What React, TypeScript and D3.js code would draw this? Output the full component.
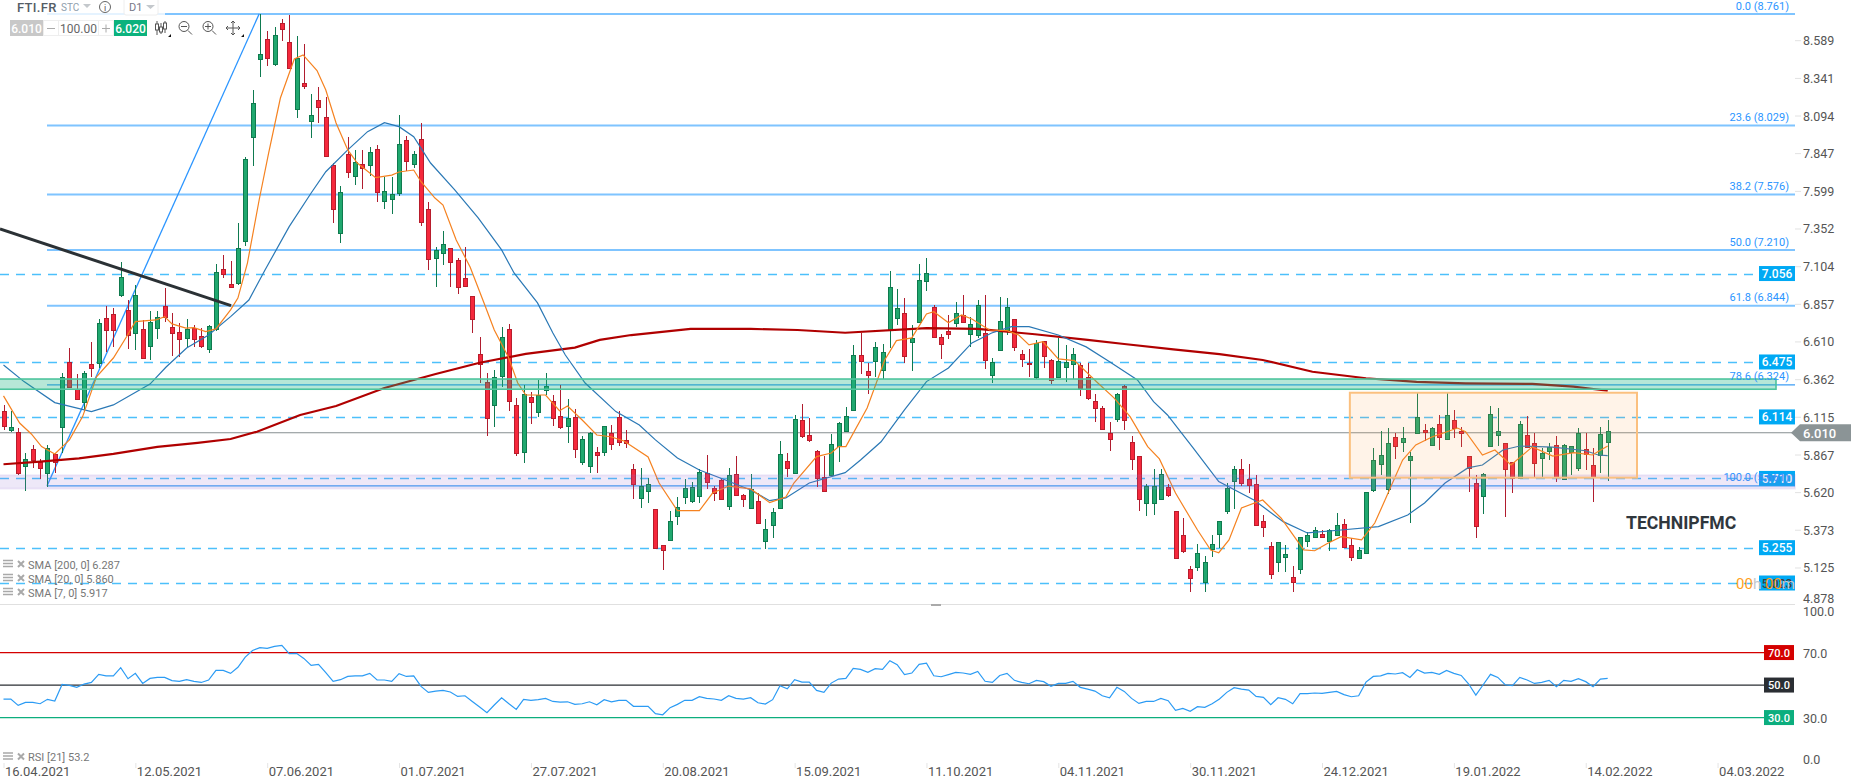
import { useEffect, useRef } from 'react';
import * as d3 from 'd3';

type Candle = [number, number, number, number]; // open, high, low, close
type Vertex = [number, number]; // bar position, price

const FONT = 'Roboto, sans-serif';

const candles: Candle[] = [
  [6.155, 6.193, 6.028, 6.056], [6.028, 6.153, 6.017, 6.048], [6.017, 6.041, 5.733, 5.748], [5.792, 5.877, 5.630, 5.838],
  [5.904, 5.930, 5.779, 5.831], [5.818, 5.838, 5.706, 5.779], [5.746, 5.930, 5.654, 5.910], [5.871, 5.877, 5.746, 5.818],
  [6.048, 6.403, 5.877, 6.376], [6.475, 6.567, 6.311, 6.311], [6.298, 6.396, 6.225, 6.232], [6.212, 6.416, 6.147, 6.403],
  [6.462, 6.606, 6.376, 6.436], [6.468, 6.758, 6.436, 6.731], [6.764, 6.843, 6.541, 6.685], [6.790, 6.830, 6.574, 6.685],
  [6.915, 7.132, 6.902, 7.033], [6.817, 6.882, 6.560, 6.652], [6.665, 6.981, 6.554, 6.915], [6.692, 6.751, 6.495, 6.501],
  [6.580, 6.810, 6.488, 6.738], [6.698, 6.810, 6.626, 6.771], [6.843, 6.961, 6.738, 6.771], [6.705, 6.797, 6.514, 6.665],
  [6.672, 6.731, 6.508, 6.626], [6.633, 6.758, 6.574, 6.692], [6.698, 6.718, 6.574, 6.626], [6.646, 6.698, 6.567, 6.580],
  [6.560, 6.718, 6.534, 6.711], [6.692, 7.119, 6.679, 7.066], [7.086, 7.178, 7.027, 7.053], [6.987, 7.138, 6.968, 6.968],
  [6.994, 7.388, 6.981, 7.224], [7.270, 7.822, 7.237, 7.809], [7.953, 8.262, 7.763, 8.176], [8.465, 8.761, 8.347, 8.498],
  [8.597, 8.649, 8.419, 8.472], [8.433, 8.676, 8.419, 8.623], [8.702, 8.728, 8.584, 8.662], [8.577, 8.754, 8.406, 8.406],
  [8.137, 8.617, 8.078, 8.472], [8.308, 8.564, 8.268, 8.288], [8.058, 8.235, 7.946, 8.098], [8.196, 8.281, 8.045, 8.150],
  [8.084, 8.216, 7.822, 7.828], [7.769, 7.782, 7.388, 7.480], [7.322, 7.631, 7.257, 7.592], [7.841, 7.953, 7.684, 7.723],
  [7.697, 7.868, 7.638, 7.789], [7.776, 7.868, 7.611, 7.749], [7.769, 7.887, 7.697, 7.855], [7.874, 7.900, 7.526, 7.592],
  [7.533, 7.690, 7.480, 7.598], [7.546, 7.690, 7.447, 7.579], [7.585, 8.098, 7.565, 7.907], [7.933, 7.960, 7.730, 7.795],
  [7.776, 7.861, 7.749, 7.841], [7.940, 8.045, 7.368, 7.395], [7.480, 7.526, 7.079, 7.152], [7.158, 7.230, 6.968, 7.211],
  [7.191, 7.336, 7.112, 7.250], [7.224, 7.224, 6.968, 7.132], [7.145, 7.158, 6.922, 6.968], [7.027, 7.230, 6.968, 6.974],
  [6.909, 6.909, 6.665, 6.758], [6.528, 6.639, 6.337, 6.462], [6.344, 6.403, 5.989, 6.107], [6.193, 6.422, 6.048, 6.376],
  [6.383, 6.705, 6.311, 6.639], [6.692, 6.725, 6.153, 6.219], [6.193, 6.238, 5.857, 5.877], [5.884, 6.324, 5.811, 6.265],
  [6.245, 6.278, 6.068, 6.212], [6.147, 6.357, 6.114, 6.258], [6.291, 6.403, 6.258, 6.317], [6.219, 6.258, 6.055, 6.107],
  [6.120, 6.324, 6.035, 6.048], [6.055, 6.232, 5.943, 6.107], [6.114, 6.166, 5.844, 5.904], [5.818, 5.989, 5.798, 5.969],
  [5.792, 6.015, 5.746, 6.009], [5.884, 5.917, 5.746, 5.864], [5.884, 6.055, 5.857, 6.055], [6.009, 6.061, 5.897, 5.936],
  [6.114, 6.153, 5.923, 5.949], [5.963, 6.028, 5.910, 5.943], [5.772, 5.805, 5.575, 5.674], [5.582, 5.779, 5.516, 5.660],
  [5.628, 5.713, 5.549, 5.674], [5.509, 5.509, 5.253, 5.253], [5.273, 5.273, 5.109, 5.240], [5.306, 5.496, 5.306, 5.430],
  [5.463, 5.588, 5.404, 5.522], [5.588, 5.706, 5.542, 5.647], [5.562, 5.687, 5.549, 5.654], [5.595, 5.772, 5.549, 5.752],
  [5.746, 5.864, 5.641, 5.687], [5.647, 5.660, 5.562, 5.614], [5.700, 5.713, 5.568, 5.575], [5.529, 5.779, 5.503, 5.733],
  [5.739, 5.857, 5.601, 5.601], [5.601, 5.608, 5.522, 5.575], [5.516, 5.739, 5.509, 5.641], [5.562, 5.614, 5.417, 5.417],
  [5.299, 5.443, 5.247, 5.378], [5.404, 5.516, 5.319, 5.490], [5.516, 5.956, 5.516, 5.871], [5.825, 5.877, 5.720, 5.779],
  [5.746, 6.127, 5.746, 6.101], [6.094, 6.199, 5.976, 5.989], [5.995, 6.107, 5.949, 5.963], [5.890, 5.897, 5.654, 5.713],
  [5.720, 5.857, 5.628, 5.628], [5.733, 6.002, 5.733, 5.936], [5.923, 6.081, 5.818, 6.074], [6.022, 6.179, 6.022, 6.120],
  [6.160, 6.587, 6.153, 6.521], [6.521, 6.665, 6.396, 6.482], [6.416, 6.468, 6.265, 6.389], [6.482, 6.606, 6.376, 6.574],
  [6.422, 6.593, 6.363, 6.541], [6.685, 7.073, 6.567, 6.968], [6.764, 6.955, 6.718, 6.830], [6.797, 6.895, 6.468, 6.514],
  [6.606, 6.718, 6.416, 6.633], [6.738, 7.119, 6.738, 7.014], [7.007, 7.158, 6.941, 7.060], [6.836, 6.849, 6.633, 6.639],
  [6.639, 6.659, 6.495, 6.593], [6.679, 6.784, 6.626, 6.659], [6.731, 6.869, 6.705, 6.797], [6.784, 6.915, 6.738, 6.738],
  [6.659, 6.771, 6.574, 6.725], [6.652, 6.882, 6.633, 6.849], [6.665, 6.915, 6.429, 6.488], [6.389, 6.501, 6.337, 6.475],
  [6.554, 6.902, 6.547, 6.744], [6.685, 6.895, 6.652, 6.836], [6.758, 6.758, 6.547, 6.574], [6.528, 6.554, 6.442, 6.495],
  [6.468, 6.560, 6.376, 6.462], [6.376, 6.620, 6.363, 6.600], [6.613, 6.613, 6.436, 6.514], [6.488, 6.495, 6.330, 6.357],
  [6.376, 6.633, 6.370, 6.482], [6.442, 6.587, 6.344, 6.475], [6.462, 6.567, 6.363, 6.528], [6.455, 6.468, 6.252, 6.304],
  [6.376, 6.468, 6.225, 6.238], [6.219, 6.265, 6.081, 6.173], [6.173, 6.186, 6.035, 6.035], [6.009, 6.081, 5.890, 5.969],
  [6.101, 6.271, 6.081, 6.265], [6.317, 6.324, 6.028, 6.094], [5.949, 5.989, 5.766, 5.838], [5.857, 5.857, 5.496, 5.575],
  [5.549, 5.674, 5.463, 5.660], [5.549, 5.772, 5.470, 5.660], [5.575, 5.772, 5.575, 5.739], [5.654, 5.674, 5.588, 5.601],
  [5.496, 5.496, 5.181, 5.187], [5.339, 5.450, 5.220, 5.233], [5.115, 5.135, 4.964, 5.056], [5.128, 5.279, 5.102, 5.220],
  [5.030, 5.201, 4.964, 5.161], [5.247, 5.339, 5.194, 5.279], [5.345, 5.430, 5.253, 5.430], [5.496, 5.680, 5.476, 5.647],
  [5.693, 5.792, 5.509, 5.772], [5.772, 5.838, 5.660, 5.680], [5.706, 5.805, 5.614, 5.667], [5.674, 5.733, 5.398, 5.404],
  [5.430, 5.470, 5.325, 5.391], [5.266, 5.292, 5.050, 5.082], [5.161, 5.292, 5.096, 5.292], [5.194, 5.273, 5.096, 5.214],
  [5.063, 5.135, 4.964, 5.030], [5.115, 5.325, 5.082, 5.325], [5.299, 5.358, 5.260, 5.339], [5.325, 5.391, 5.319, 5.371],
  [5.345, 5.371, 5.319, 5.325], [5.299, 5.378, 5.233, 5.371], [5.339, 5.483, 5.332, 5.404], [5.411, 5.443, 5.260, 5.260],
  [5.273, 5.319, 5.168, 5.194], [5.187, 5.260, 5.181, 5.240], [5.220, 5.621, 5.214, 5.621], [5.634, 5.910, 5.621, 5.831],
  [5.805, 6.022, 5.733, 5.864], [5.641, 6.041, 5.608, 5.943], [5.982, 6.009, 5.838, 5.923], [5.949, 6.048, 5.884, 5.976],
  [5.831, 5.884, 5.417, 5.857], [6.009, 6.278, 6.002, 6.114], [6.028, 6.068, 5.956, 6.015], [5.930, 6.048, 5.923, 6.041],
  [6.068, 6.127, 5.897, 5.982], [5.969, 6.271, 5.969, 6.127], [6.094, 6.160, 5.976, 6.041], [6.022, 6.048, 5.917, 6.009],
  [5.857, 5.857, 5.621, 5.779], [5.680, 5.733, 5.319, 5.398], [5.595, 5.746, 5.476, 5.739], [5.923, 6.186, 5.923, 6.133],
  [5.995, 6.173, 5.923, 6.022], [5.943, 5.943, 5.457, 5.772], [5.818, 5.818, 5.614, 5.713], [5.713, 6.087, 5.706, 6.068],
  [5.995, 6.120, 5.917, 5.917], [5.943, 6.009, 5.713, 5.811], [5.844, 5.910, 5.713, 5.877], [5.890, 5.943, 5.831, 5.917],
  [5.930, 5.989, 5.687, 5.720], [5.706, 5.936, 5.706, 5.930], [5.884, 5.923, 5.733, 5.923], [5.779, 6.041, 5.759, 6.009],
  [5.904, 6.009, 5.766, 5.871], [5.798, 5.910, 5.555, 5.720], [5.864, 6.048, 5.746, 6.002], [5.949, 6.094, 5.693, 6.022],
];

const sma200: Vertex[] = [
  [0, 5.803], [5, 5.82], [10.3, 5.842], [15, 5.871], [21, 5.917], [26.5, 5.943], [31, 5.969], [34.6, 6.017], [40.5, 6.127],
  [45.4, 6.186], [52, 6.304], [59, 6.396], [65, 6.47], [71.3, 6.528], [78, 6.569], [81.4, 6.62], [85.7, 6.652], [93.8, 6.692],
  [102, 6.692], [108.4, 6.685], [114.9, 6.667], [126, 6.698], [133, 6.692], [140.8, 6.657], [148, 6.62], [153, 6.593],
  [159.7, 6.558], [166, 6.526], [171.9, 6.488], [178.7, 6.411], [186, 6.368], [192.9, 6.344], [199.6, 6.335], [208.7, 6.331],
  [214.3, 6.313], [219, 6.286],
];

const sma20: Vertex[] = [
  [0, 6.455], [2.8, 6.346], [7, 6.208], [12, 6.149], [15, 6.193], [20, 6.33], [22.2, 6.442], [25, 6.567], [28, 6.652], [31, 6.773],
  [33.5, 6.882], [35.7, 7.079], [39, 7.364], [42, 7.585], [44, 7.725], [47, 7.868], [49.7, 7.988], [52, 8.047], [54, 8.021],
  [56, 7.955], [58.3, 7.782], [61.6, 7.605], [64.8, 7.421], [68, 7.211], [69.7, 7.06], [72.9, 6.863], [75, 6.665], [76.7, 6.521],
  [79.4, 6.337], [83.6, 6.149], [86.8, 6.061], [89, 5.963], [92, 5.844], [95, 5.765], [98.2, 5.706], [102, 5.634], [104.6, 5.564],
  [106.8, 5.582], [110, 5.68], [114.9, 5.748], [117, 5.831], [119.8, 5.951], [123, 6.16], [126, 6.346], [129, 6.436], [132.2, 6.6],
  [134.9, 6.665], [137.6, 6.707], [140, 6.707], [144, 6.652], [147.8, 6.574], [151, 6.477], [154.8, 6.357], [157, 6.214],
  [158.9, 6.127], [162.4, 5.91], [165.9, 5.689], [170.7, 5.568], [174.7, 5.426], [178, 5.352], [182.6, 5.371], [187.7, 5.393],
  [191.7, 5.47], [194, 5.549], [196.8, 5.68], [199.9, 5.779], [201.9, 5.798], [204.7, 5.897], [207, 5.923], [211.5, 5.915],
  [216, 5.892], [217.7, 5.864], [219, 5.86],
];

const sma7: Vertex[] = [
  [0, 6.252], [2.2, 6.074], [3.8, 6.002], [5.2, 5.919], [7, 5.871], [9, 5.963], [10.8, 6.116], [12.7, 6.378], [15, 6.501],
  [16.8, 6.641], [18, 6.74], [20.8, 6.751], [22, 6.773], [23, 6.725], [24.9, 6.698], [26, 6.7], [27.6, 6.674], [29, 6.692],
  [31, 6.817], [32, 6.895], [33.3, 7.125], [34.9, 7.539], [36.2, 7.848], [37.8, 8.209], [39.7, 8.465], [40.9, 8.492],
  [42.8, 8.389], [44, 8.262], [45.4, 8.045], [47, 7.868], [48.3, 7.782], [50.8, 7.686], [53, 7.703], [54, 7.723], [56, 7.736],
  [57, 7.659], [58.9, 7.552], [60, 7.506], [61.8, 7.276], [63.7, 7.099], [65.6, 6.863], [67, 6.685], [68.9, 6.51], [70.2, 6.337],
  [71.3, 6.258], [74, 6.258], [75.9, 6.155], [77, 6.186], [79, 6.094], [81, 5.995], [82.9, 5.984], [84.7, 5.956], [88, 5.851],
  [89.5, 5.68], [92, 5.498], [95, 5.498], [96.8, 5.614], [99, 5.66], [102, 5.641], [104.6, 5.551], [106.8, 5.588], [107.9, 5.68],
  [111, 5.853], [113, 5.877], [114, 5.919], [115, 5.919], [117.9, 6.173], [120.3, 6.488], [121.9, 6.615], [124, 6.633], [126, 6.79],
  [127, 6.805], [129, 6.733], [130.8, 6.784], [132.2, 6.757], [134.6, 6.685], [137, 6.681], [138.6, 6.652], [140, 6.587],
  [141.9, 6.608], [144, 6.495], [146.2, 6.484], [149.4, 6.337], [151.6, 6.239], [153.8, 6.116], [156.2, 5.919], [157.8, 5.838],
  [160, 5.614], [163, 5.371], [164.8, 5.24], [165.9, 5.222], [167.3, 5.306], [169, 5.516], [171.9, 5.568], [174.4, 5.45],
  [177.5, 5.24], [179, 5.235], [180.6, 5.279], [182.6, 5.327], [185.4, 5.306], [187.2, 5.417], [188.6, 5.568], [191, 5.831],
  [192.8, 5.93], [195, 5.982], [198.5, 6.041], [199.6, 6.017], [201.9, 5.864], [203.6, 5.897], [205.8, 5.798], [208.7, 5.917],
  [211.5, 5.857], [214.4, 5.879], [216.9, 5.864], [219, 5.923],
];

const rsi = [
  41.4, 41.4, 37.5, 39.3, 39.3, 38.5, 41.2, 40.2, 50.4, 49.8, 48.6, 50.6, 51.6, 56.6, 55.7, 55.7, 60.7, 53.9, 57.2, 51.0,
  54.1, 54.7, 54.7, 52.7, 52.3, 53.3, 52.3, 51.6, 53.1, 59.0, 59.0, 57.2, 60.9, 67.2, 71.3, 73.0, 72.6, 73.8, 74.4, 69.3,
  69.5, 66.4, 62.1, 62.7, 57.6, 52.3, 53.3, 55.3, 55.7, 55.7, 57.2, 53.1, 53.1, 52.3, 57.0, 55.3, 55.7, 49.2, 45.5, 46.3,
  46.7, 45.7, 43.0, 43.4, 39.9, 36.5, 33.0, 37.7, 42.2, 38.5, 35.0, 41.2, 40.6, 41.0, 41.8, 39.9, 39.5, 39.7, 38.1, 38.5,
  39.7, 37.9, 41.0, 39.7, 40.6, 40.6, 36.9, 36.9, 36.9, 32.4, 31.7, 36.1, 38.1, 40.6, 40.6, 42.8, 41.8, 41.4, 40.6, 43.4,
  41.8, 41.4, 42.2, 39.1, 38.3, 41.0, 49.6, 47.7, 53.3, 51.8, 51.8, 46.7, 45.5, 51.2, 53.7, 54.1, 60.3, 59.6, 57.8, 60.1,
  59.6, 65.0, 62.5, 56.4, 57.4, 62.7, 63.5, 55.7, 55.1, 56.4, 57.8, 57.4, 56.6, 58.4, 52.3, 51.6, 55.9, 57.2, 52.9, 51.6,
  50.8, 52.9, 52.1, 49.2, 51.0, 51.0, 52.3, 48.6, 47.5, 46.3, 43.4, 42.2, 48.6, 46.1, 41.8, 38.7, 39.9, 39.9, 41.8, 40.4,
  34.4, 35.6, 33.8, 36.7, 36.3, 38.5, 41.4, 45.5, 48.4, 47.5, 46.9, 43.0, 42.4, 37.9, 42.2, 41.2, 38.5, 44.7, 44.7, 45.1,
  44.9, 45.5, 46.1, 44.1, 42.8, 43.4, 51.8, 55.3, 55.7, 57.2, 56.8, 57.6, 54.7, 59.4, 57.4, 57.8, 56.6, 59.0, 57.2, 55.9,
  50.8, 43.8, 50.2, 56.6, 54.7, 50.2, 49.6, 54.7, 53.1, 51.0, 51.6, 52.9, 49.0, 52.9, 52.3, 53.9, 52.1, 49.0, 53.7, 54.1,
];

const dateBars = [0, 18, 36, 54, 72, 90, 108, 126, 144, 162, 180, 198, 216, 234];
const dateLabels = [
  '16.04.2021', '12.05.2021', '07.06.2021', '01.07.2021', '27.07.2021', '20.08.2021', '15.09.2021',
  '11.10.2021', '04.11.2021', '30.11.2021', '24.12.2021', '19.01.2022', '14.02.2022', '04.03.2022',
];
const priceTicks = [
  8.589, 8.341, 8.094, 7.847, 7.599, 7.352, 7.104, 6.857, 6.61, 6.362, 6.115, 5.867, 5.62, 5.373, 5.125, 4.878,
];
const rsiTicks = [100, 70, 30, 0];

const fibRatios = [0, 23.6, 38.2, 50, 61.8, 78.6, 100];
const fibPrices = [8.761, 8.029, 7.576, 7.21, 6.844, 6.324, 5.661];
const dashedLevels = [7.056, 6.475, 6.114, 5.71, 5.255, 5.023];
const lastPrice = 6.01;
const rsiLevels = [70, 50, 30];
const rsiLevelColors = ['#d40000', '#2a2e33', '#0cae7e'];

const fibDiagonal: Vertex[] = [[5.94, 5.661], [34.9, 8.761]];
const trendLine: Vertex[] = [[-0.48, 7.349], [31.06, 6.845]];
const greenZone = [6.363, 6.296];
const purpleZone = [5.731, 5.643];
const rangeBoxBars = [183.8, 223];
const rangeBoxPrices = [6.273, 5.715];

const legendLines = ['SMA [200, 0] 6.287', 'SMA [20, 0] 5.860', 'SMA [7, 0] 5.917'];

function App() {
  const chartRef = useRef<SVGGElement>(null);

  useEffect(() => {
    if (!chartRef.current) return;
    const g = d3.select(chartRef.current);
    g.selectAll('*').remove();

    const right = 1795;
    const x = d3.scaleLinear().domain([0, 219]).range([3.5, 1607.7]);
    const y = d3.scaleLinear().domain([8.761, 5.023]).range([14, 583]);
    const yRsi = d3.scaleLinear().domain([0, 100]).range([766.3, 603.8]);
    const line = d3
      .line<Vertex>()
      .x((d) => x(d[0]))
      .y((d) => y(d[1]));

    // horizontal levels sit behind the candles
    g.selectAll('.dash')
      .data(dashedLevels)
      .join('line')
      .attr('x1', 0)
      .attr('x2', 1760)
      .attr('y1', (d) => Math.round(y(d)) + 0.5)
      .attr('y2', (d) => Math.round(y(d)) + 0.5)
      .attr('stroke', '#4cc0fb')
      .attr('stroke-width', 1.6)
      .attr('stroke-dasharray', '9 7');

    g.selectAll('.fib')
      .data(fibPrices)
      .join('line')
      .attr('x1', 47)
      .attr('x2', right)
      .attr('y1', (d) => y(d))
      .attr('y2', (d) => y(d))
      .attr('stroke', (_, i) => (i >= 5 ? '#3d9df5' : '#7fc4ff'))
      .attr('stroke-width', (_, i) => (i >= 5 ? 1.2 : 2));

    g.append('line')
      .attr('x1', 0)
      .attr('x2', right)
      .attr('y1', y(lastPrice))
      .attr('y2', y(lastPrice))
      .attr('stroke', '#868e90')
      .attr('stroke-width', 1);

    g.append('path').attr('d', line(fibDiagonal)).attr('fill', 'none').attr('stroke', '#2b95ff').attr('stroke-width', 1.3);

    // candles
    const bars = g
      .selectAll('.candle')
      .data(candles)
      .join('g')
      .attr('shape-rendering', 'crispEdges')
      .attr('transform', (_, i) => `translate(${Math.round(x(i)) + 0.5},0)`);

    bars
      .append('line')
      .attr('y1', (d) => y(d[1]))
      .attr('y2', (d) => y(d[2]))
      .attr('stroke', (d) => (d[3] >= d[0] ? '#0e7a50' : '#b01c2e'));

    bars
      .append('rect')
      .attr('x', -2)
      .attr('width', 4)
      .attr('y', (d) => Math.round(y(Math.max(d[0], d[3]))) + 0.5)
      .attr('height', (d) => Math.max(1, Math.round(Math.abs(y(d[0]) - y(d[3])))))
      .attr('fill', (d) => (d[3] >= d[0] ? '#20a86f' : '#f5283c'))
      .attr('stroke', (d) => (d[3] >= d[0] ? '#0f7a4e' : '#b81d2c'));

    g.append('path').attr('d', line(trendLine)).attr('fill', 'none').attr('stroke', '#2b3135').attr('stroke-width', 3);
    g.append('path').attr('d', line(sma200)).attr('fill', 'none').attr('stroke', '#b00000').attr('stroke-width', 2.2);
    g.append('path').attr('d', line(sma20)).attr('fill', 'none').attr('stroke', '#2a78b5').attr('stroke-width', 1.2);
    g.append('path').attr('d', line(sma7)).attr('fill', 'none').attr('stroke', '#f58220').attr('stroke-width', 1.2);

    // zones painted over the candles
    g.append('rect')
      .attr('x', -2)
      .attr('width', 1778)
      .attr('y', y(greenZone[0]))
      .attr('height', y(greenZone[1]) - y(greenZone[0]))
      .attr('fill', 'rgba(30,180,130,0.32)')
      .attr('stroke', '#4dc49d')
      .attr('stroke-width', 1.6);

    // price tags
    const tags = g.selectAll('.tag').data(dashedLevels).join('g');
    tags
      .append('rect')
      .attr('x', 1759)
      .attr('width', 36)
      .attr('y', (d) => y(d) - 7.5)
      .attr('height', 15)
      .attr('fill', '#00a9f4');
    tags
      .append('text')
      .attr('x', 1777)
      .attr('y', (d) => y(d) + 4.5)
      .attr('text-anchor', 'middle')
      .attr('font-family', FONT)
      .attr('font-size', 12)
      .attr('font-weight', 500)
      .attr('fill', (d) => (d === 5.023 ? '#3a3f44' : '#fff'))
      .text((d) => d.toFixed(3));

    g.selectAll('.fibLabel')
      .data(fibPrices)
      .join('text')
      .attr('x', 1789)
      .attr('y', (d) => y(d) - 4.5)
      .attr('text-anchor', 'end')
      .attr('font-family', FONT)
      .attr('font-size', 11)
      .attr('fill', '#2b95ff')
      .text((d, i) => `${fibRatios[i].toFixed(1)} (${d.toFixed(3)})`);

    g.append('rect')
      .attr('x', -2)
      .attr('width', right + 2)
      .attr('y', y(purpleZone[0]))
      .attr('height', y(purpleZone[1]) - y(purpleZone[0]))
      .attr('fill', 'rgba(150,110,210,0.16)')
      .attr('stroke', 'rgba(150,110,210,0.12)')
      .attr('stroke-width', 2);

    g.append('rect')
      .attr('x', x(rangeBoxBars[0]))
      .attr('width', x(rangeBoxBars[1]) - x(rangeBoxBars[0]))
      .attr('y', y(rangeBoxPrices[0]))
      .attr('height', y(rangeBoxPrices[1]) - y(rangeBoxPrices[0]))
      .attr('fill', 'rgba(253,165,80,0.13)')
      .attr('stroke', '#fbc07f')
      .attr('stroke-width', 2);

    // countdown over the last tag
    const countdown = g
      .append('text')
      .attr('x', right)
      .attr('y', y(5.023) + 6)
      .attr('text-anchor', 'end')
      .attr('font-family', FONT)
      .attr('font-size', 15);
    countdown.append('tspan').attr('fill', '#ff9f1c').text('00');
    countdown.append('tspan').attr('fill', '#c4c8cc').text('h ');
    countdown.append('tspan').attr('fill', '#ff9f1c').text('00');
    countdown.append('tspan').attr('fill', '#c4c8cc').text('m');

    g.append('text')
      .attr('x', 1626)
      .attr('y', 529)
      .attr('font-family', FONT)
      .attr('font-size', 17.6)
      .attr('font-weight', 700)
      .attr('fill', '#30373d')
      .text('TECHNIPFMC');

    // price axis
    const priceAxis = g
      .append('g')
      .attr('transform', `translate(${right},0)`)
      .call(d3.axisRight(y).tickValues(priceTicks).tickSize(6).tickPadding(2).tickFormat((d) => (d as number).toFixed(3)));
    priceAxis.select('.domain').remove();
    priceAxis.selectAll('line').attr('stroke', '#e2e2e2');
    priceAxis
      .selectAll<SVGTextElement, number>('text')
      .attr('font-family', FONT)
      .attr('font-size', 12.5)
      .attr('fill', '#555')
      .attr('dy', (d) => (d < 4.9 ? -2.6 : 4.5));
    priceAxis.selectAll<SVGLineElement, number>('line').filter((d) => d < 4.9).remove();

    // last price flag
    const yLast = y(lastPrice);
    g.append('path')
      .attr('d', d3.line()([[1791, yLast], [1800, yLast - 8.5], [1851, yLast - 8.5], [1851, yLast + 8.5], [1800, yLast + 8.5]]) + 'Z')
      .attr('fill', '#8b9496');
    g.append('text')
      .attr('x', 1803)
      .attr('y', yLast + 5)
      .attr('font-family', FONT)
      .attr('font-size', 13)
      .attr('font-weight', 500)
      .attr('fill', '#fff')
      .text(lastPrice.toFixed(3));

    // pane separator
    g.append('line').attr('x1', 0).attr('x2', right).attr('y1', 604.5).attr('y2', 604.5).attr('stroke', '#e0e0e0');
    g.append('rect').attr('x', 931).attr('y', 604).attr('width', 10).attr('height', 2).attr('fill', '#aaa');

    // rsi pane
    g.selectAll('.rsiLevel')
      .data(rsiLevels)
      .join('line')
      .attr('x1', 0)
      .attr('x2', 1764)
      .attr('y1', (d) => yRsi(d))
      .attr('y2', (d) => yRsi(d))
      .attr('stroke', (_, i) => rsiLevelColors[i])
      .attr('stroke-width', 1.2);

    g.append('path')
      .attr('d', d3.line<number>().x((_, i) => x(i)).y((d) => yRsi(d))(rsi))
      .attr('fill', 'none')
      .attr('stroke', '#2b9bf4')
      .attr('stroke-width', 1.2);

    const rsiTags = g.selectAll('.rsiTag').data(rsiLevels).join('g');
    rsiTags
      .append('rect')
      .attr('x', 1764)
      .attr('width', 30)
      .attr('y', (d) => yRsi(d) - 7.5)
      .attr('height', 15)
      .attr('fill', (_, i) => rsiLevelColors[i]);
    rsiTags
      .append('text')
      .attr('x', 1779)
      .attr('y', (d) => yRsi(d) + 4)
      .attr('text-anchor', 'middle')
      .attr('font-family', FONT)
      .attr('font-size', 11)
      .attr('font-weight', 500)
      .attr('fill', '#fff')
      .text((d) => d.toFixed(1));

    const rsiAxis = g
      .append('g')
      .attr('transform', `translate(${right},0)`)
      .call(d3.axisRight(yRsi).tickValues(rsiTicks).tickSize(0).tickPadding(8).tickFormat((d) => (d as number).toFixed(1)));
    rsiAxis.select('.domain').remove();
    rsiAxis.selectAll('line').remove();
    rsiAxis
      .selectAll<SVGTextElement, number>('text')
      .attr('font-family', FONT)
      .attr('font-size', 12.5)
      .attr('fill', '#555')
      .attr('dy', (d) => (d === 100 ? 11.8 : d === 0 ? -2.8 : 4.5));

    // date axis
    const dateAxis = g
      .append('g')
      .attr('transform', 'translate(0,763)')
      .call(
        d3
          .axisBottom(x)
          .tickValues(dateBars)
          .tickSize(5)
          .tickPadding(0)
          .tickFormat((_, i) => dateLabels[i]),
      );
    dateAxis.select('.domain').remove();
    dateAxis.selectAll('line').attr('stroke', '#e4e4e4');
    dateAxis
      .selectAll('text')
      .attr('text-anchor', 'start')
      .attr('x', 1)
      .attr('y', 4)
      .attr('font-family', FONT)
      .attr('font-size', 13)
      .attr('fill', '#555');
  }, []);

  return (
    <svg
      width={1851}
      height={780}
      viewBox="0 0 1851 780"
      style={{ position: 'absolute', left: 0, top: 0, display: 'block', background: '#fff' }}
    >
      <g ref={chartRef} />
      <Legend />
      <Toolbar />
    </svg>
  );
}

function LegendIcon({ y }: { y: number }) {
  return (
    <g stroke="#a9a9a9" fill="none">
      <path d={`M3 ${y - 4}H13M3 ${y - 1}H13M3 ${y + 2}H13`} strokeWidth={1.4} />
      <path d={`M18 ${y - 3.5}L24 ${y + 2.5}M24 ${y - 3.5}L18 ${y + 2.5}`} strokeWidth={2} />
    </g>
  );
}

function Legend() {
  return (
    <g fontFamily={FONT} fontSize={11} fill="#777">
      {legendLines.map((t, i) => (
        <g key={t}>
          <LegendIcon y={564.5 + i * 14} />
          <text x={28} y={568.5 + i * 14}>
            {t}
          </text>
        </g>
      ))}
      <LegendIcon y={757} />
      <text x={28} y={761}>
        RSI [21] 53.2
      </text>
    </g>
  );
}

function Toolbar() {
  return (
    <g fontFamily={FONT}>
      <rect x={47} y={12} width={118} height={5} fill="#fff" fillOpacity={0.8} />
      <text x={17} y={12} fontSize={13} fontWeight={500} fill="#555d66" letterSpacing={0.3}>
        FTI.FR
      </text>
      <text x={61} y={11} fontSize={10} fill="#8fa0ad">
        STC
      </text>
      <path d="M83 4H91L87 8Z" fill="#c4c8cc" />
      <circle cx={105} cy={7} r={5.5} fill="#fff" stroke="#666" />
      <text x={105} y={10.5} fontSize={9} fill="#555" textAnchor="middle">
        i
      </text>
      <rect x={124} y={-4} width={34} height={19} rx={2} fill="#fff" stroke="#eee" />
      <text x={129} y={11} fontSize={11} fill="#778">
        D1
      </text>
      <path d="M146 5H155L150.5 9Z" fill="#c4c8cc" />

      <rect x={10} y={20} width={33} height={16} fill="#c8c8c8" />
      <text x={26.5} y={32.5} fontSize={12} fontWeight={500} fill="#fff" textAnchor="middle">
        6.010
      </text>
      <rect x={43.5} y={20.5} width={15} height={15} fill="#fff" stroke="#eee" />
      <path d="M47 28.5H55" stroke="#aaa" />
      <rect x={58.5} y={20.5} width={40} height={15} fill="#fff" stroke="#eee" />
      <text x={78.5} y={33} fontSize={12} fill="#666" textAnchor="middle">
        100.00
      </text>
      <rect x={98.5} y={20.5} width={15} height={15} fill="#fff" stroke="#eee" />
      <path d="M102 28.5H110M106 24.5V32.5" stroke="#aaa" />
      <rect x={114} y={20} width={33} height={16} fill="#0bb27d" />
      <text x={130.5} y={32.5} fontSize={12} fontWeight={500} fill="#fff" textAnchor="middle">
        6.020
      </text>

      {/* candle, zoom and move icons */}
      <g fill="none" stroke="#555">
        <path d="M157 21V35M161 23V34M165 21V33" />
        <rect x={155.5} y={24} width={3} height={6} fill="#fff" />
        <rect x={159.5} y={27} width={3} height={5} fill="#fff" />
        <rect x={163.5} y={23} width={3} height={6} fill="#fff" />
        <circle cx={184} cy={26.5} r={5} />
        <path d="M188 30.5L192 34.5M181 26.5H187" />
        <circle cx={208} cy={26.5} r={5} />
        <path d="M212 30.5L216 34.5M205 26.5H211M208 23.5V29.5" />
        <path d="M233 21V35M226 28H240M231 23L233 21L235 23M231 33L233 35L235 33M228 26L226 28L228 30M238 26L240 28L238 30" />
      </g>
      <path d="M171 34V37H168ZM244 34V37H241Z" fill="#111" />
    </g>
  );
}

export default App;
